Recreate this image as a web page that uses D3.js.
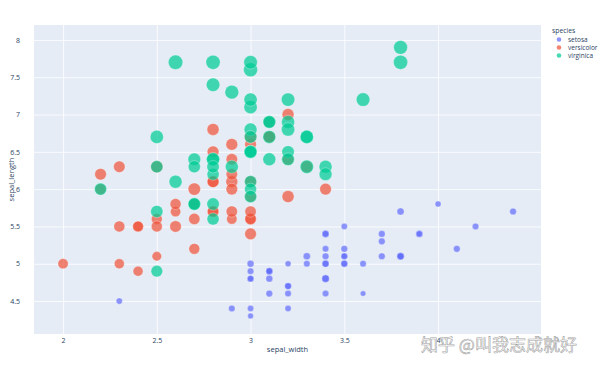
<!DOCTYPE html>
<html><head><meta charset="utf-8">
<script src="https://cdn.jsdelivr.net/npm/d3@7"></script>
<style>body{margin:0;background:#fff;font-family:"Open Sans",Arial,sans-serif;}</style>
</head><body><svg id="c" width="600" height="368"></svg>
<script>
const species = ["setosa","versicolor","virginica"];
const colors = ["#636efa","#EF553B","#00cc96"];
const xTicks = [2,2.5,3,3.5,4];
const yTicks = [4.5,5,5.5,6,6.5,7,7.5,8];
// sepal_length, sepal_width, petal_length per species
const setosaSL = [5.1,4.9,4.7,4.6,5.0,5.4,4.6,5.0,4.4,4.9,5.4,4.8,4.8,4.3,5.8,5.7,5.4,5.1,5.7,5.1,5.4,5.1,4.6,5.1,4.8,5.0,5.0,5.2,5.2,4.7,4.8,5.4,5.2,5.5,4.9,5.0,5.5,4.9,4.4,5.1,5.0,4.5,4.4,5.0,5.1,4.8,5.1,4.6,5.3,5.0];
const setosaSW = [3.5,3.0,3.2,3.1,3.6,3.9,3.4,3.4,2.9,3.1,3.7,3.4,3.0,3.0,4.0,4.4,3.9,3.5,3.8,3.8,3.4,3.7,3.6,3.3,3.4,3.0,3.4,3.5,3.4,3.2,3.1,3.4,4.1,4.2,3.1,3.2,3.5,3.1,3.0,3.4,3.5,2.3,3.2,3.5,3.8,3.0,3.8,3.2,3.7,3.3];
const setosaPL = [1.4,1.4,1.3,1.5,1.4,1.7,1.4,1.5,1.4,1.5,1.5,1.6,1.4,1.1,1.2,1.5,1.3,1.4,1.7,1.5,1.7,1.5,1.0,1.7,1.9,1.6,1.6,1.5,1.4,1.6,1.6,1.5,1.5,1.4,1.5,1.2,1.3,1.5,1.3,1.5,1.3,1.3,1.3,1.6,1.9,1.4,1.6,1.4,1.5,1.4];
const versicolorSL = [7.0,6.4,6.9,5.5,6.5,5.7,6.3,4.9,6.6,5.2,5.0,5.9,6.0,6.1,5.6,6.7,5.6,5.8,6.2,5.6,5.9,6.1,6.3,6.1,6.4,6.6,6.8,6.7,6.0,5.7,5.5,5.5,5.8,6.0,5.4,6.0,6.7,6.3,5.6,5.5,5.5,6.1,5.8,5.0,5.6,5.7,5.7,6.2,5.1,5.7];
const versicolorSW = [3.2,3.2,3.1,2.3,2.8,2.8,3.3,2.4,2.9,2.7,2.0,3.0,2.2,2.9,2.9,3.1,3.0,2.7,2.2,2.5,3.2,2.8,2.5,2.8,2.9,3.0,2.8,3.0,2.9,2.6,2.4,2.4,2.7,2.7,3.0,3.4,3.1,2.3,3.0,2.5,2.6,3.0,2.6,2.3,2.7,3.0,2.9,2.9,2.5,2.8];
const versicolorPL = [4.7,4.5,4.9,4.0,4.6,4.5,4.7,3.3,4.6,3.9,3.5,4.2,4.0,4.7,3.6,4.4,4.5,4.1,4.5,3.9,4.8,4.0,4.9,4.7,4.3,4.4,4.8,5.0,4.5,3.5,3.8,3.7,3.9,5.1,4.5,4.5,4.7,4.4,4.1,4.0,4.4,4.6,4.0,3.3,4.2,4.2,4.2,4.3,3.0,4.1];
const virginicaSL = [6.3,5.8,7.1,6.3,6.5,7.6,4.9,7.3,6.7,7.2,6.5,6.4,6.8,5.7,5.8,6.4,6.5,7.7,7.7,6.0,6.9,5.6,7.7,6.3,6.7,7.2,6.2,6.1,6.4,7.2,7.4,7.9,6.4,6.3,6.1,7.7,6.3,6.4,6.0,6.9,6.7,6.9,5.8,6.8,6.7,6.7,6.3,6.5,6.2,5.9];
const virginicaSW = [3.3,2.7,3.0,2.9,3.0,3.0,2.5,2.9,2.5,3.6,3.2,2.7,3.0,2.5,2.8,3.2,3.0,3.8,2.6,2.2,3.2,2.8,2.8,2.7,3.3,3.2,2.8,3.0,2.8,3.0,2.8,3.8,2.8,2.8,2.6,3.0,3.4,3.1,3.0,3.1,3.1,3.1,2.7,3.2,3.3,3.0,2.5,3.0,3.4,3.0];
const virginicaPL = [6.0,5.1,5.9,5.6,5.8,6.6,4.5,6.3,5.8,6.1,5.1,5.3,5.5,5.0,5.1,5.3,5.5,6.7,6.9,5.0,5.7,4.9,6.7,4.9,5.7,6.0,4.8,4.9,5.6,5.8,6.1,6.4,5.6,5.1,5.6,6.1,5.6,5.5,4.8,5.4,5.6,5.1,5.1,5.9,5.7,5.2,5.0,5.2,5.4,5.1];

const groups = [
  {sl:setosaSL, sw:setosaSW, pl:setosaPL},
  {sl:versicolorSL, sw:versicolorSW, pl:versicolorPL},
  {sl:virginicaSL, sw:virginicaSW, pl:virginicaPL}
];

const svg = d3.select("#c");
const L=34, R=541, T=25, B=334;
const x = d3.scaleLinear().domain([1.845,4.549]).range([L,R]);
const y = d3.scaleLinear().domain([4.058,8.2]).range([B,T]);
const maxPL = 6.9;
const r = d3.scaleSqrt().domain([0,maxPL]).range([0,7.2]);

svg.append("rect").attr("x",L).attr("y",T).attr("width",R-L).attr("height",B-T).attr("fill","#E5ECF6");

const gx = svg.append("g").attr("transform",`translate(0,${B})`)
  .call(d3.axisBottom(x).tickValues(xTicks).tickSize(-(B-T)).tickFormat(d3.format("")));
const gy = svg.append("g").attr("transform",`translate(${L},0)`)
  .call(d3.axisLeft(y).tickValues(yTicks).tickSize(-(R-L)).tickFormat(d3.format("")));
[gx,gy].forEach(g=>{
  g.select(".domain").remove();
  g.selectAll(".tick line").attr("stroke","#fff").attr("stroke-width",0.8);
  g.selectAll(".tick text").attr("fill","#2a3f5f").attr("font-size",7).attr("font-family","Open Sans, Arial, sans-serif");
});
gx.selectAll(".tick text").attr("dy","0.71em").attr("y",4);
gy.selectAll(".tick text").attr("x",-14);

const pts = svg.append("g");
groups.forEach((g,i)=>{
  const data = g.sl.map((v,j)=>({sl:v, sw:g.sw[j], pl:g.pl[j]}));
  pts.selectAll(null).data(data).enter().append("circle")
    .attr("cx",d=>x(d.sw)).attr("cy",d=>y(d.sl)).attr("r",d=>r(d.pl))
    .attr("fill",colors[i]).attr("fill-opacity",0.72)
    .attr("stroke","#fff").attr("stroke-opacity",0.6).attr("stroke-width",0.5);
});

svg.append("text").attr("x",(L+R)/2).attr("y",352).attr("text-anchor","middle")
  .attr("font-size",7.5).attr("fill","#2a3f5f").text("sepal_width");
svg.append("text").attr("transform",`translate(14,${(T+B)/2}) rotate(-90)`).attr("text-anchor","middle")
  .attr("font-size",7.5).attr("fill","#2a3f5f").text("sepal_length");

const leg = svg.append("g");
leg.append("text").attr("x",552).attr("y",33).attr("font-size",6.8).attr("fill","#2a3f5f").text("species");
species.forEach((s,i)=>{
  const yy = 39.5 + i*8;
  leg.append("circle").attr("cx",559).attr("cy",yy).attr("r",2.3).attr("fill",colors[i]).attr("fill-opacity",0.72);
  leg.append("text").attr("x",568).attr("y",yy+2.3).attr("font-size",6.5).attr("fill","#2a3f5f").text(s);
});

svg.append("text").attr("x",421).attr("y",351).attr("font-size",17)
  .attr("font-family","Noto Sans CJK SC, sans-serif")
  .attr("fill","#ffffff").attr("stroke","#8a8a8a").attr("stroke-width",0.6).attr("stroke-opacity",0.8)
  .text("知乎 @叫我志成就好");
</script></body></html>
